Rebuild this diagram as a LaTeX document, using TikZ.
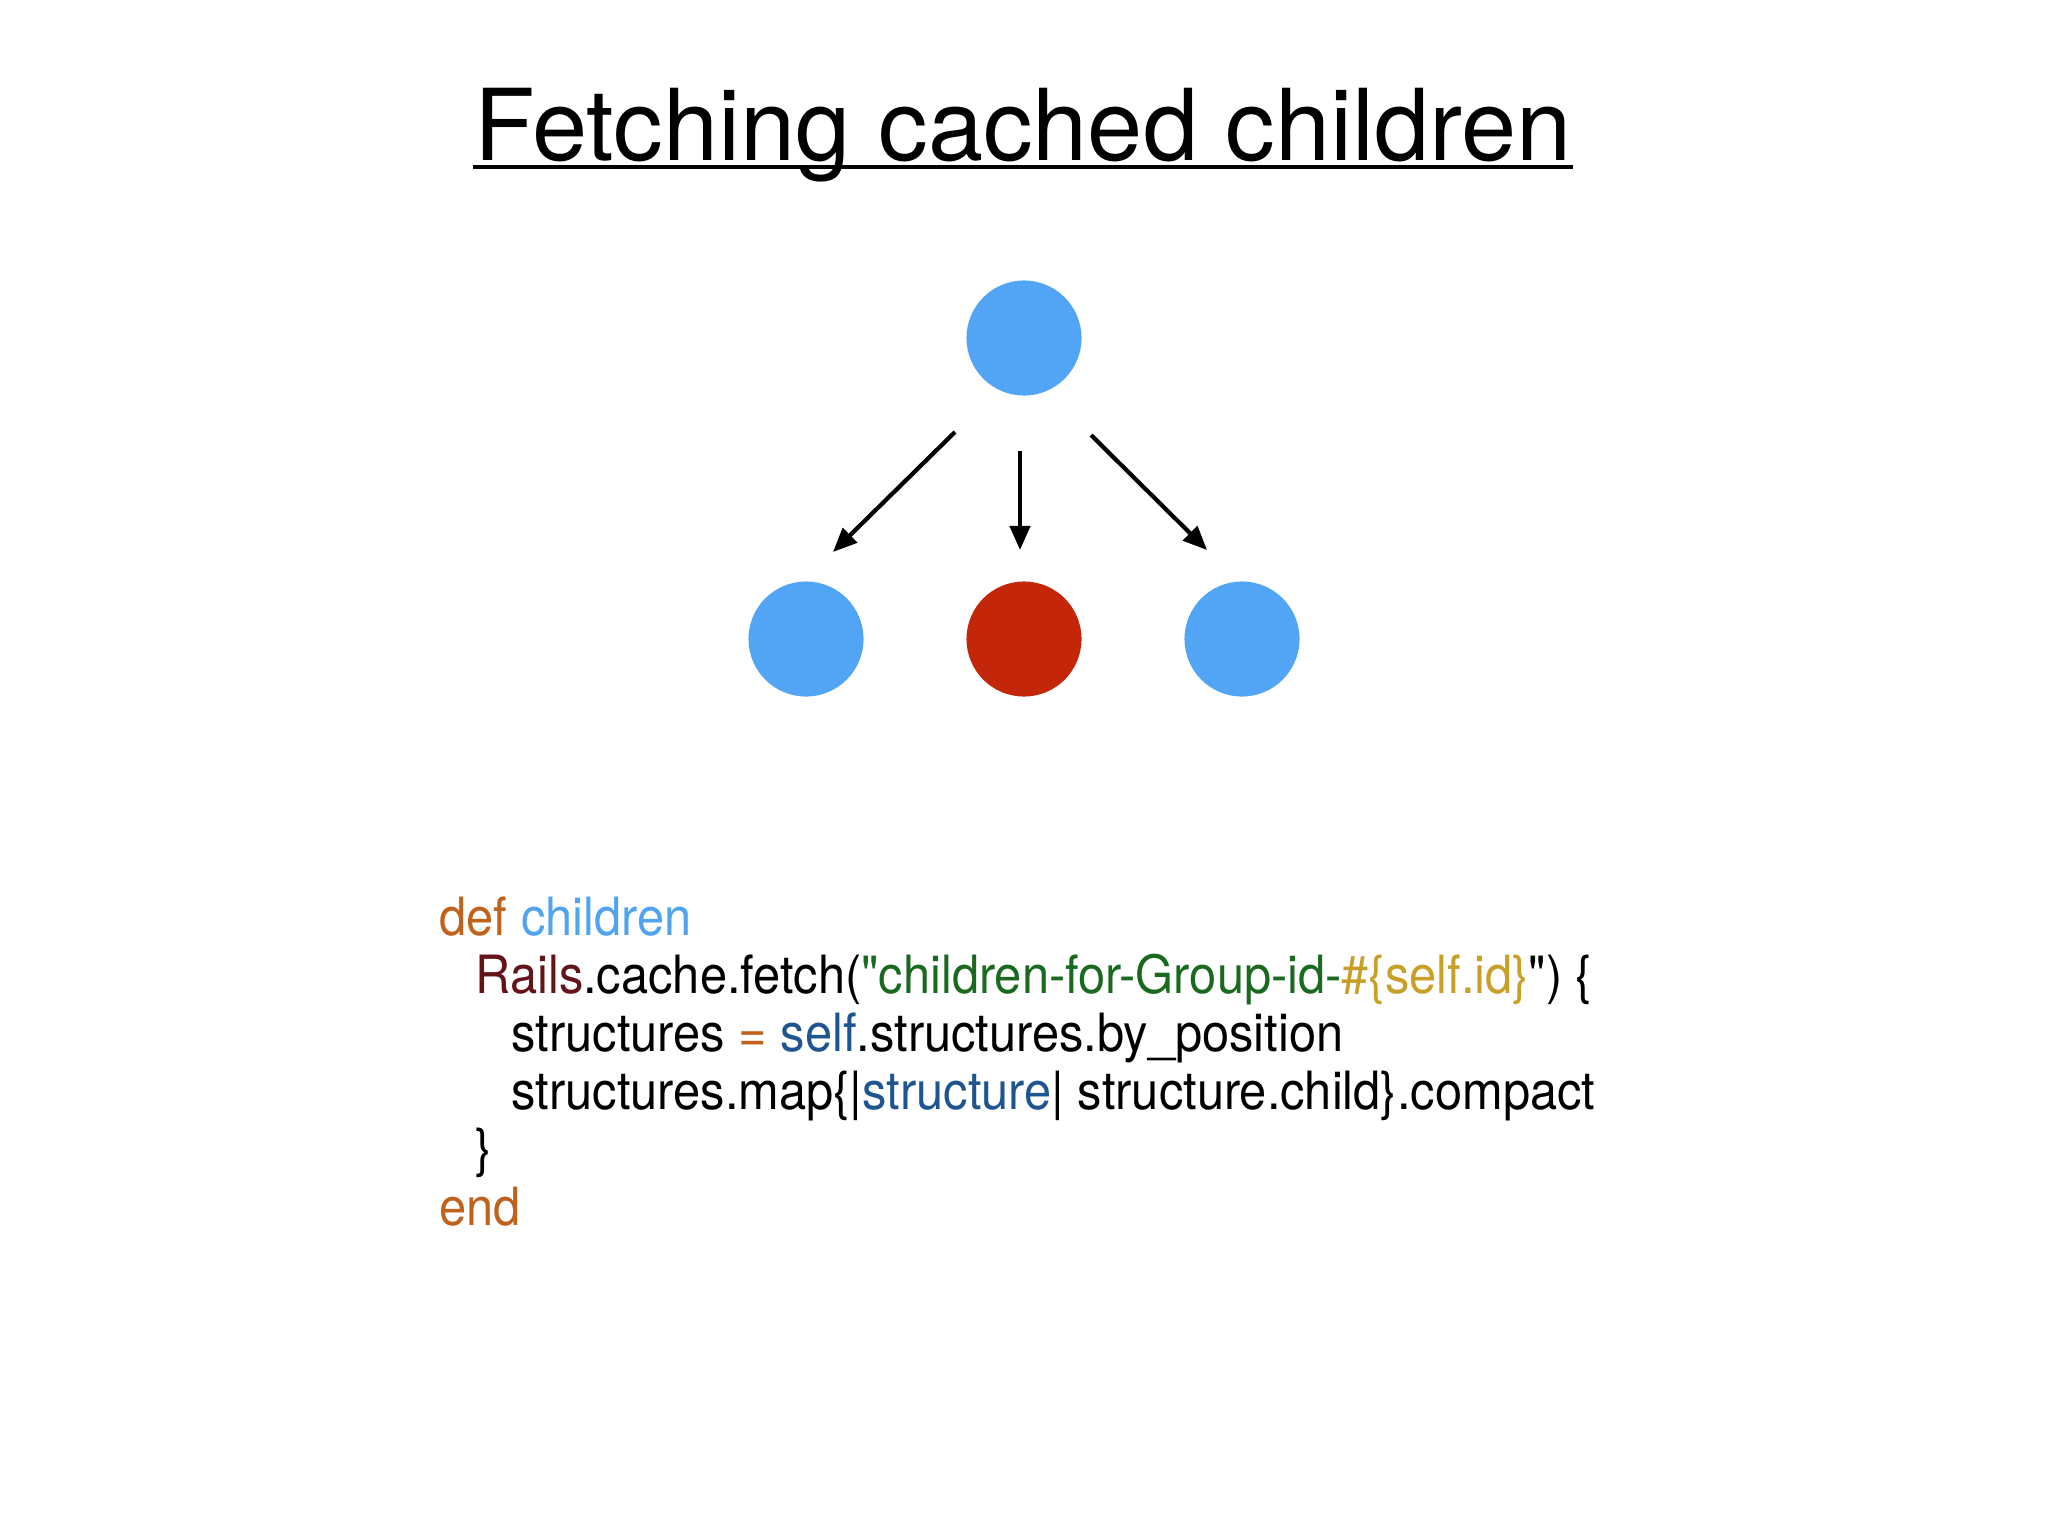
\documentclass[tikz,border=0pt]{standalone}
\usepackage{fontspec}
\setmainfont{TeX Gyre Heros}[Ligatures=TeXOff]
\newfontfamily\codefont{TeX Gyre Heros}[FakeStretch=0.925,Ligatures=TeXOff]
\usetikzlibrary{arrows.meta}
\definecolor{nodeblue}{RGB}{82,165,245}
\definecolor{nodered}{RGB}{196,38,10}
\definecolor{kworange}{RGB}{192,98,28}
\definecolor{fnblue}{RGB}{80,163,238}
\definecolor{constred}{RGB}{100,20,25}
\definecolor{strgreen}{RGB}{25,105,30}
\definecolor{interpgold}{RGB}{200,160,40}
\definecolor{varblue}{RGB}{30,85,145}

\begin{document}
\begin{tikzpicture}[x=0.01cm,y=-0.01cm,
  dot/.style={circle,fill=nodeblue,minimum size=1.15cm,inner sep=0pt},
  codeline/.style={anchor=base west,inner sep=0pt,font=\codefont\fontsize{15}{18}\selectfont},
  link/.style={-{Triangle[length=0.24cm,width=0.2cm]},line width=1.2pt}]
\useasboundingbox (0,0) rectangle (2048,1536);
% title
\node[inner sep=0pt,anchor=base,font=\fontsize{28.2}{34}\selectfont] (title) at (1023,160) {Fetching cached children};
\draw[line width=1.4pt] ([yshift=-0.07cm]title.base west) -- ([yshift=-0.07cm]title.base east);
% tree
\node[dot] (root) at (1024,338) {};
\node[dot] (left) at (806,639) {};
\node[dot,fill=nodered] (mid) at (1024,639) {};
\node[dot] (right) at (1242,639) {};
\coordinate (ls) at (955,432);
\coordinate (le) at (833,552);
\coordinate (ms) at (1020,451);
\coordinate (me) at (1020,550);
\coordinate (rs) at (1091,435);
\coordinate (re) at (1207,550);
\draw[link] (ls) -- (le);
\draw[link] (ms) -- (me);
\draw[link] (rs) -- (re);
% code
\node[codeline] (l1) at (439,935) {\textcolor{kworange}{def} \textcolor{fnblue}{children}};
\node[codeline] (l2) at (475,993) {\textcolor{constred}{Rails}.cache.fetch(\textcolor{strgreen}{"children-for-Group-id-}\textcolor{interpgold}{\#\{self.id\}}") \{};
\node[codeline] (l3) at (511,1051) {structures \textcolor{kworange}{=} \textcolor{varblue}{self}.structures.by\_position};
\node[codeline] (l4) at (511,1109) {structures.map\{|\textcolor{varblue}{structure}| structure.child\}.compact};
\node[codeline] (l5) at (475,1166) {\}};
\node[codeline] (l6) at (439,1225) {\textcolor{kworange}{end}};
\end{tikzpicture}
\end{document}
